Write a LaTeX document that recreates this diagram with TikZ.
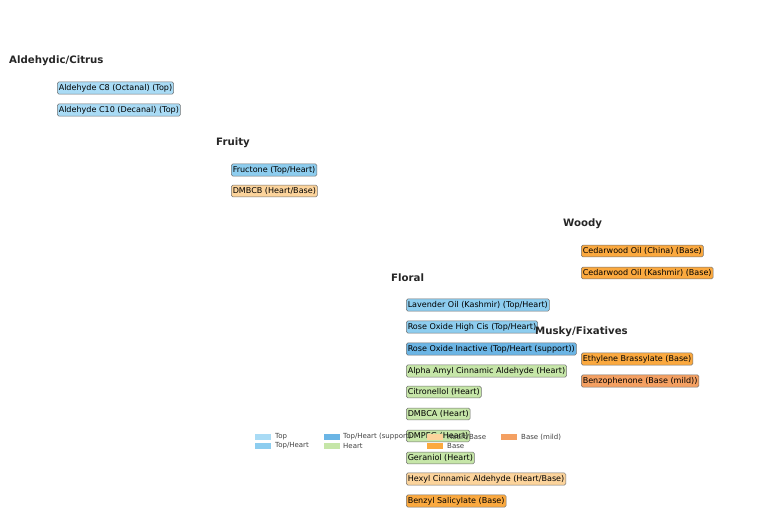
\documentclass[tikz,border=0pt]{standalone}
\usepackage{fontspec}
\setmainfont{DejaVu Sans}
\begin{document}
\begin{tikzpicture}[x=1pt,y=-1pt,
  box/.style={draw=black!55,rounded corners=1.5pt,anchor=west,inner xsep=1.5pt,inner ysep=2.2pt,font=\fontsize{8.05}{8.5}\selectfont,line width=0.5pt},
  ttl/.style={anchor=west,font=\bfseries\fontsize{10.2}{11}\selectfont,text=black!85,inner sep=0},
  sw/.style={minimum width=16pt,minimum height=5.5pt,inner sep=0,anchor=west},
  lt/.style={anchor=west,font=\fontsize{7}{7.5}\selectfont,text=black!75,inner sep=0}]
\definecolor{cTop}{HTML}{A9DBF5}
\definecolor{cTH}{HTML}{8DCDEF}
\definecolor{cTHS}{HTML}{6BB5E5}
\definecolor{cH}{HTML}{C6E6A8}
\definecolor{cHB}{HTML}{FCD49C}
\definecolor{cB}{HTML}{FBA93F}
\definecolor{cBM}{HTML}{F4A062}
\useasboundingbox (0,0) rectangle (768,512);
\node[ttl] (t1) at (9,61) {Aldehydic/Citrus};
\node[ttl] (t2) at (216,143) {Fruity};
\node[ttl] (t3) at (563,224) {Woody};
\node[ttl] (t4) at (391,278) {Floral};
\node[box,fill=cTop] (a1) at (57,88) {Aldehyde C8 (Octanal) (Top)};
\node[box,fill=cTop] (a2) at (57,110) {Aldehyde C10 (Decanal) (Top)};
\node[box,fill=cTH] (f1) at (231,170) {Fructone (Top/Heart)};
\node[box,fill=cHB] (f2) at (231,191) {DMBCB (Heart/Base)};
\node[box,fill=cB] (w1) at (581,251) {Cedarwood Oil (China) (Base)};
\node[box,fill=cB] (w2) at (581,273) {Cedarwood Oil (Kashmir) (Base)};
\node[box,fill=cTH] (p1) at (406,305) {Lavender Oil (Kashmir) (Top/Heart)};
\node[box,fill=cTH] (p2) at (406,327) {Rose Oxide High Cis (Top/Heart)};
\node[ttl] (t5) at (535,332) {Musky/Fixatives};
\node[box,fill=cTHS] (p3) at (406,349) {Rose Oxide Inactive (Top/Heart (support))};
\node[box,fill=cH] (p4) at (406,371) {Alpha Amyl Cinnamic Aldehyde (Heart)};
\node[box,fill=cH] (p5) at (406,392) {Citronellol (Heart)};
\node[box,fill=cH] (p6) at (406,414) {DMBCA (Heart)};
\node[box,fill=cH] (p7) at (406,436) {DMPEG (Heart)};
\node[box,fill=cH] (p8) at (406,458) {Geraniol (Heart)};
\node[box,fill=cHB] (p9) at (406,479) {Hexyl Cinnamic Aldehyde (Heart/Base)};
\node[box,fill=cB] (p10) at (406,501) {Benzyl Salicylate (Base)};
\node[box,fill=cB] (m1) at (581,359) {Ethylene Brassylate (Base)};
\node[box,fill=cBM] (m2) at (581,381) {Benzophenone (Base (mild))};
% legend
\node[sw,fill=cTop] (s1) at (255,437) {}; \node[lt] (l1) at (275,437) {Top};
\node[sw,fill=cTH] (s2) at (255,446) {}; \node[lt] (l2) at (275,446) {Top/Heart};
\node[sw,fill=cTHS] (s3) at (324,437) {}; \node[lt] (l3) at (343,437) {Top/Heart (support)};
\node[sw,fill=cH] (s4) at (324,446) {}; \node[lt] (l4) at (343,446) {Heart};
\node[sw,fill=cHB] (s5) at (427,437) {}; \node[lt] (l5) at (447,437) {Heart/Base};
\node[sw,fill=cB] (s6) at (427,446) {}; \node[lt] (l6) at (447,446) {Base};
\node[sw,fill=cBM] (s7) at (501,437) {}; \node[lt] (l7) at (521,437) {Base (mild)};
\end{tikzpicture}
\end{document}
